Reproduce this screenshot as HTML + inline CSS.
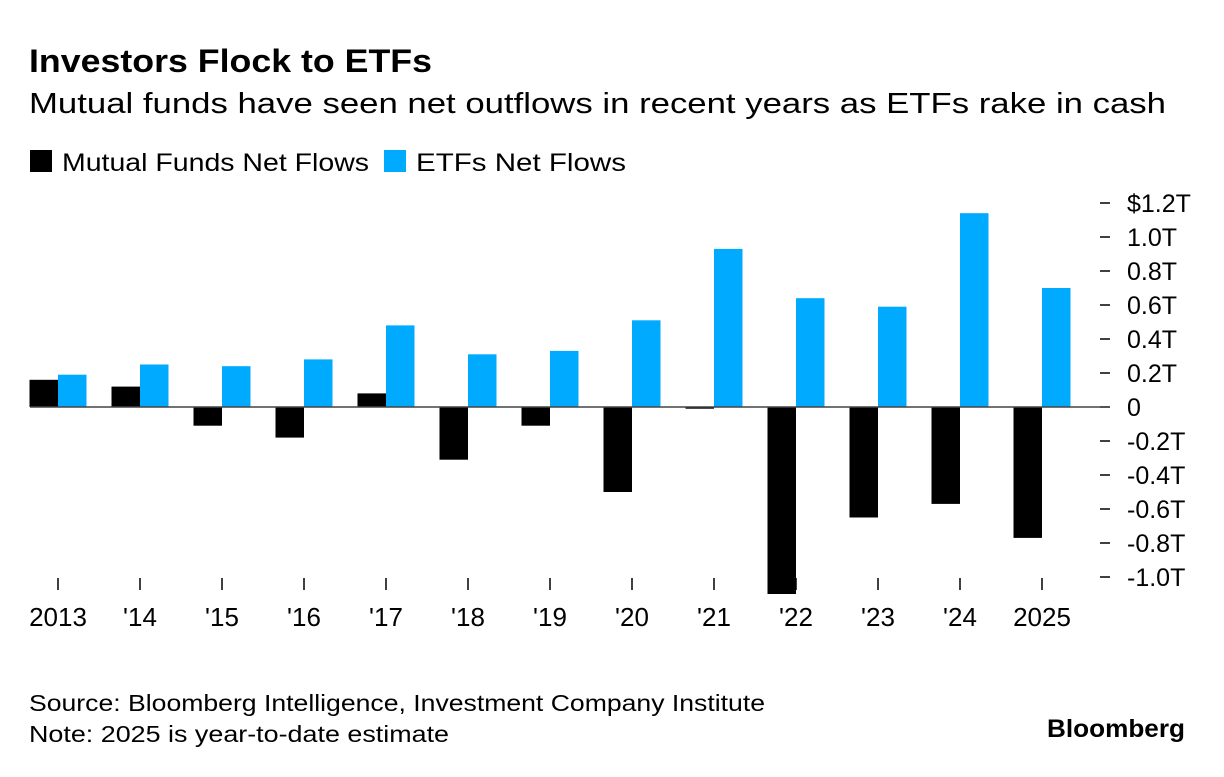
<!DOCTYPE html>
<html><head><meta charset="utf-8">
<style>
body{margin:0;background:#fff;width:1224px;height:772px;overflow:hidden;font-family:"Liberation Sans",Arial,sans-serif;}
svg text{font-family:"Liberation Sans",Arial,sans-serif;}
</style></head>
<body>
<svg width="1224" height="772" viewBox="0 0 1224 772">
<text x="29" y="72" font-size="32" font-weight="bold" fill="#000" textLength="403" lengthAdjust="spacingAndGlyphs">Investors Flock to ETFs</text>
<text x="29" y="113" font-size="29" fill="#000" textLength="1137" lengthAdjust="spacingAndGlyphs">Mutual funds have seen net outflows in recent years as ETFs rake in cash</text>
<rect x="30" y="150" width="22" height="22" fill="#000"/>
<text x="62" y="171" font-size="25" textLength="307" lengthAdjust="spacingAndGlyphs">Mutual Funds Net Flows</text>
<rect x="384" y="150" width="22" height="22" fill="#00aaff"/>
<text x="416" y="171" font-size="25" textLength="210" lengthAdjust="spacingAndGlyphs">ETFs Net Flows</text>
<g id="plot"></g>
<text x="29" y="711" font-size="23" textLength="736" lengthAdjust="spacingAndGlyphs">Source: Bloomberg Intelligence, Investment Company Institute</text>
<text x="29" y="742" font-size="23" textLength="420" lengthAdjust="spacingAndGlyphs">Note: 2025 is year-to-date estimate</text>
<text x="1047" y="737" font-size="25" font-weight="bold" textLength="138" lengthAdjust="spacingAndGlyphs">Bloomberg</text>
</svg>
<script>
const categories=["2013","'14","'15","'16","'17","'18","'19","'20","'21","'22","'23","'24","2025"];
const mutualFunds=[0.16,0.12,-0.11,-0.18,0.08,-0.31,-0.11,-0.50,-0.01,-1.10,-0.65,-0.57,-0.77];
const etfs=[0.19,0.25,0.24,0.28,0.48,0.31,0.33,0.51,0.93,0.64,0.59,1.14,0.70];
const tickValues=[1.2,1.0,0.8,0.6,0.4,0.2,0,-0.2,-0.4,-0.6,-0.8,-1.0];
const tickLabels=["$1.2T","1.0T","0.8T","0.6T","0.4T","0.2T","0","-0.2T","-0.4T","-0.6T","-0.8T","-1.0T"];
const NS="http://www.w3.org/2000/svg";
const g=document.getElementById('plot');
const y=v=>407-v*170;
const xc=i=>58+i*82;
const bw=28.5;
function mk(t,a){const e=document.createElementNS(NS,t);for(const k in a)e.setAttribute(k,a[k]);g.appendChild(e);return e;}
tickValues.forEach((v,i)=>{
  const l=mk('line',{x1:1100,x2:1110,y1:y(v),y2:y(v),stroke:'#000','stroke-width':1.5});
  
  
  const t=mk('text',{x:1127,y:y(v)+9,'font-size':25});
  t.textContent=tickLabels[i];
  
  
});
categories.forEach((c,i)=>{
  const m=mutualFunds[i],e=etfs[i];
  const b1=mk('rect',{x:xc(i)-bw,y:Math.min(y(m),y(0)),width:bw,height:Math.abs(y(m)-y(0)),fill:'#000'});
  
  
  const b2=mk('rect',{x:xc(i),y:Math.min(y(e),y(0)),width:bw,height:Math.abs(y(e)-y(0)),fill:'#00aaff'});
  
  
  const tk=mk('line',{x1:xc(i),x2:xc(i),y1:578,y2:590,stroke:'#000','stroke-width':1.5});
  
  
  const t=mk('text',{x:xc(i),y:626,'font-size':26,'text-anchor':'middle'});
  t.textContent=c;
  
  
});
const z=mk('line',{x1:30,x2:1110,y1:y(0),y2:y(0),stroke:'#444','stroke-width':1.5});


</script>
</body></html>
